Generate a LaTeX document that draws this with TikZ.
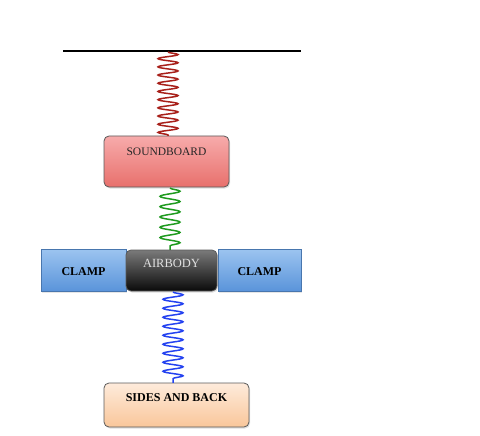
\documentclass[tikz,border=0pt]{standalone}
\usepackage{fontspec}
\setmainfont{Liberation Serif}
\usetikzlibrary{decorations.pathmorphing,shadows}
\definecolor{sbtop}{HTML}{F7ABAB}
\definecolor{sbbot}{HTML}{E8706C}
\definecolor{cltop}{HTML}{9CC4F0}
\definecolor{clbot}{HTML}{5A94DA}
\definecolor{abtop}{HTML}{7A7A7A}
\definecolor{abbot}{HTML}{0A0A0A}
\definecolor{sdtop}{HTML}{FEEBDB}
\definecolor{sdbot}{HTML}{F9C69A}
\definecolor{edge}{HTML}{5A5A5A}
\definecolor{sred}{HTML}{A8201A}
\definecolor{sgreen}{HTML}{1F9A1F}
\definecolor{sblue}{HTML}{2442F0}
\begin{document}
\begin{tikzpicture}[x=1pt,y=-1pt,
  box/.style={draw=edge,line width=0.8pt,rounded corners=5pt,
    drop shadow={shadow xshift=1pt,shadow yshift=-1.5pt,opacity=0.25}},
  clampbox/.style={draw=clbot!80!black,line width=0.5pt,top color=cltop,bottom color=clbot,
    drop shadow={shadow xshift=1pt,shadow yshift=-1.5pt,opacity=0.2}},
  spring/.style={line width=1.5pt,decorate,decoration={snake,amplitude=10pt,segment length=#1}},
  lbl/.style={font=\bfseries\fontsize{12}{13}\selectfont}]
\useasboundingbox (0,0) rectangle (480,436);
% support
\coordinate (supL) at (63,51);
\coordinate (supR) at (301,51);
\draw[line width=1.2pt] (supL) -- (supR);
\coordinate (s1) at (168,52);
% boxes
\path[box,top color=sbtop,bottom color=sbbot] (104,136) rectangle (229,187);
\node (sb) at (166.5,161.5) [minimum width=125pt,minimum height=51pt] {};
\node[font=\fontsize{11.5}{12}\selectfont,text=black!85] at (166.5,152) {SOUNDBOARD};
\path[clampbox] (41,249) rectangle (126,291);
\node (cl1) at (83.5,270) [minimum width=85pt,minimum height=42pt] {};
\node[lbl] at (83.5,272) {CLAMP};
\path[clampbox] (218,249) rectangle (301,291);
\node (cl2) at (259.5,270) [minimum width=83pt,minimum height=42pt] {};
\node[lbl] at (259.5,272) {CLAMP};
\path[box,top color=abtop,bottom color=abbot] (126,250) rectangle (217,291);
\node (ab) at (171.5,270.5) [minimum width=91pt,minimum height=41pt] {};
\node[font=\fontsize{12.5}{13}\selectfont,text=black!12] at (171.5,263) {AIRBODY};
\path[box,top color=sdtop,bottom color=sdbot] (104,383) rectangle (249,427);
\node (sd) at (176.5,405) [minimum width=145pt,minimum height=44pt] {};
\node[lbl] at (176.5,398) {SIDES AND BACK};
% springs
\draw[spring=8.2pt,sred] (s1) -- (sb.north -| s1);
\coordinate (s2) at (170,188);
\draw[spring=10.3pt,sgreen] (s2) -- (ab.north -| s2);
\coordinate (s3) at (173,292);
\draw[spring=9pt,sblue] (s3) -- (sd.north -| s3);
\end{tikzpicture}
\end{document}
